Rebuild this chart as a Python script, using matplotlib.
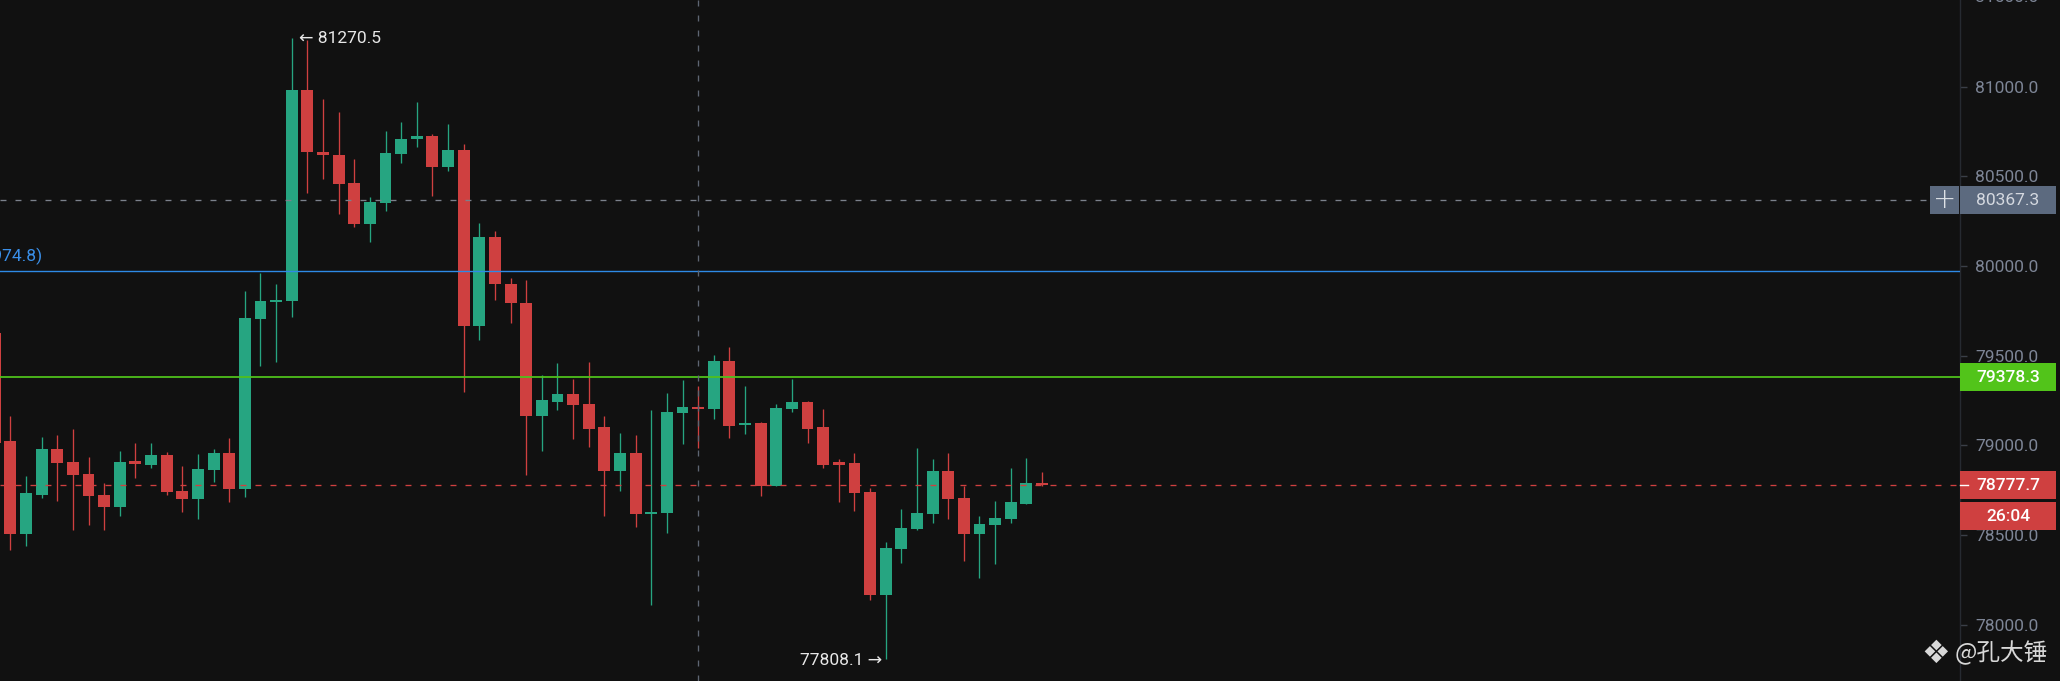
"""Binance style candlestick chart with price labels"""

import matplotlib
matplotlib.use("Agg")
import matplotlib.pyplot as plt
import matplotlib.transforms as mtransforms
from matplotlib.patches import Rectangle

# candles, first one is cut off at the left edge
opens = [79626, 79022, 78506, 78725, 78981, 78906, 78841, 78725, 78657, 78913,
         78892, 78947, 78744, 78700, 78860, 78957, 78758, 79703, 79798, 79805,
         80983, 80639, 80622, 80464, 80232, 80350, 80627, 80711, 80728, 80551,
         80646, 79665, 80161, 79900, 79793, 79161, 79243, 79284, 79233, 79100,
         78858, 78957, 78616, 78623, 79178, 79214, 79202, 79468, 79112, 79127,
         78773, 79202, 79241, 79100, 78904, 78899, 78739, 78162, 78424, 78533,
         78616, 78858, 78705, 78506, 78555, 78591, 78674, 78790]
highs = [79640, 79165, 78826, 79044, 79056, 79093, 78935, 78792, 78967, 79015,
         79015, 78962, 78887, 78952, 78977, 79040, 79863, 79960, 79897, 81270.5,
         81262, 80934, 80862, 80595, 80384, 80755, 80803, 80915, 80735, 80791,
         80680, 80241, 80198, 79936, 79924, 79391, 79459, 79369, 79464, 79161,
         79071, 79059, 79199, 79294, 79362, 79330, 79505, 79546, 79333, 79130,
         79233, 79372, 79245, 79204, 78923, 78955, 78761, 78458, 78642, 78986,
         78926, 78955, 78773, 78603, 78688, 78875, 78931, 78851]
lows = [78990, 78414, 78439, 78705, 78688, 78526, 78555, 78526, 78608, 78817,
        78875, 78725, 78628, 78589, 78797, 78681, 78710, 79444, 79466, 79716,
        80409, 80486, 80292, 80220, 80135, 80307, 80573, 80663, 80389, 80530,
        79299, 79590, 79810, 79684, 78834, 78967, 79197, 79035, 78991, 78608,
        78744, 78545, 78107, 78511, 79006, 78986, 79144, 79040, 79064, 78717,
        78770, 79183, 79015, 78875, 78681, 78635, 78138, 77808.1, 78344, 78530,
        78567, 78591, 78356, 78259, 78337, 78567, 78673, 78775]
closes = [79013, 78506, 78732, 78981, 78899, 78834, 78717, 78657, 78906, 78894,
          78947, 78741, 78700, 78865, 78957, 78758, 79711, 79803, 79810, 80983,
          80634, 80619, 80457, 80232, 80355, 80631, 80711, 80728, 80551, 80646,
          79665, 80161, 79897, 79791, 79161, 79250, 79284, 79226, 79093, 78858,
          78957, 78616, 78628, 79183, 79216, 79204, 79468, 79107, 79124, 78773,
          79209, 79241, 79093, 78889, 78892, 78734, 78162, 78429, 78540, 78623,
          78858, 78700, 78506, 78562, 78596, 78681, 78790, 78777.7]

y_ticks = [78000.0, 78500.0, 79000.0, 79500.0, 80000.0, 80500.0, 81000.0, 81500.0]
cross_price = 80367.3
ma_price = 79974.8
level_price = 79378.3
last_price = 78777.7
countdown = "26:04"
high_price = 81270.5
low_price = 77808.1
high_idx = 18
low_idx = 56
cross_idx = 44

BG = "#111111"
GREEN = "#26a581"
RED = "#cf4040"

plt.rcParams["font.family"] = ["Roboto", "DejaVu Sans"]
plt.rcParams["lines.scale_dashes"] = False

W, H = 2060, 681
fig = plt.figure(figsize=(W / 100, H / 100), dpi=100, facecolor=BG)
ax = fig.add_axes([0, 0, 1960 / W, 1])
ax.set_facecolor(BG)

ybot, ytop = 77684.8, 81484.3
ax.set_xlim(-0.665, 124.73)
ax.set_ylim(ybot, ytop)
ppu = H / (ytop - ybot)  # pixels per price unit

# candles
xs = list(range(-1, len(opens) - 1))
colors = [GREEN if c >= o else RED for o, c in zip(opens, closes)]
ax.vlines(xs, lows, highs, colors=colors, linewidth=0.95, zorder=2)
min_body = 1.5 / ppu
bottoms = [min(o, c) for o, c in zip(opens, closes)]
heights = [max(abs(c - o), min_body) for o, c in zip(opens, closes)]
ax.bar(xs, heights, bottom=bottoms, width=0.76, color=colors, linewidth=0, zorder=3)

# horizontal levels
dash = (4.3, 6.5)
ax.axhline(cross_price, color="#7b818c", linewidth=0.95, dashes=dash, zorder=4)
ax.axhline(ma_price, color="#2e8ae6", linewidth=1.0, zorder=4)
ax.axhline(level_price, color="#4fc01c", linewidth=1.3, zorder=4)
ax.axhline(last_price, color=RED, linewidth=0.95, dashes=dash, zorder=4)
ax.axvline(cross_idx, color="#5e6673", linewidth=0.95, dashes=dash, zorder=4)

# high / low markers
ax.annotate("\u2190 %.1f" % high_price, (high_idx, high_price), xytext=(5, 0),
            textcoords="offset points", ha="left", va="center",
            color="#e8e8e8", fontsize=12.5, zorder=6)
ax.annotate("%.1f \u2192" % low_price, (low_idx, low_price), xytext=(-2.5, -1),
            textcoords="offset points", ha="right", va="center",
            color="#e8e8e8", fontsize=12.5, zorder=6)
ax.annotate("(%.1f)" % ma_price, (2.07, ma_price), xytext=(0, 10),
            textcoords="offset points", ha="right", va="center",
            color="#3a8fe8", fontsize=12.5, zorder=6, annotation_clip=False)

# price axis on the right
for s in ["top", "left", "bottom"]:
    ax.spines[s].set_visible(False)
ax.spines["right"].set_color("#262a31")
ax.spines["right"].set_linewidth(1.0)
ax.set_xticks([])
ax.yaxis.tick_right()
ax.set_yticks(y_ticks[:-1])
ax.set_yticklabels(["%.1f" % t for t in y_ticks[:-1]])
ax.tick_params(axis="y", colors="#3a3f48", labelcolor="#7d8596", length=5,
               width=1, pad=5.8, labelsize=12.5)

trans = mtransforms.blended_transform_factory(ax.transAxes, ax.transData)
# tick label that sits half above the top edge
ax.text(1.0 + 15 / 1960, y_ticks[-1], "%.1f" % y_ticks[-1], transform=trans,
        ha="left", va="center", color="#7d8596", fontsize=12.5, clip_on=False)

box_h = 28 / ppu
x_box = 1.0
w_box = 96 / 1960
x_mid = 1.0 + 48 / 1960


def price_box(y, text, face, tcolor, weight="medium"):
    ax.add_patch(Rectangle((x_box, y - box_h / 2), w_box, box_h, transform=trans,
                           facecolor=face, edgecolor="none", clip_on=False, zorder=7))
    ax.text(x_mid, y, text, transform=trans, ha="center", va="center",
            color=tcolor, fontsize=12.5, fontweight=weight, clip_on=False, zorder=8)


price_box(cross_price, "%.1f" % cross_price, "#5c6a7f", "#d5d9e0", "normal")
ax.add_patch(Rectangle((1.0 - 30 / 1960, cross_price - box_h / 2), 29 / 1960, box_h,
                       transform=trans, facecolor="#5c6a7f", edgecolor="none",
                       clip_on=False, zorder=7))
ax.text(1.0 - 15.5 / 1960, cross_price, "+", transform=trans, ha="center",
        va="center", color="#dde1e6", fontsize=20, fontweight="light",
        family="DejaVu Sans", clip_on=False, zorder=8)
price_box(level_price, "%.1f" % level_price, "#52c41a", "white")
price_box(last_price, "%.1f" % last_price, RED, "white")
price_box(last_price - 31 / ppu, countdown, RED, "white")
ax.plot([1.0, 1.0 + 8 / 1960], [last_price, last_price], transform=trans,
        color="white", linewidth=1.0, clip_on=False, zorder=9)

# watermark
fig.text(1936 / W, 1 - 654 / H, "\u2756", ha="center", va="center",
         color="#d8d8d8", fontsize=23, family=["DejaVu Sans"])
fig.text(1955 / W, 1 - 653 / H, "@孔大锤", ha="left", va="center",
         color="#d8d8d8", fontsize=17, family=["Noto Sans CJK SC", "DejaVu Sans"])

fig.savefig("out.png", dpi=100, facecolor=BG)
